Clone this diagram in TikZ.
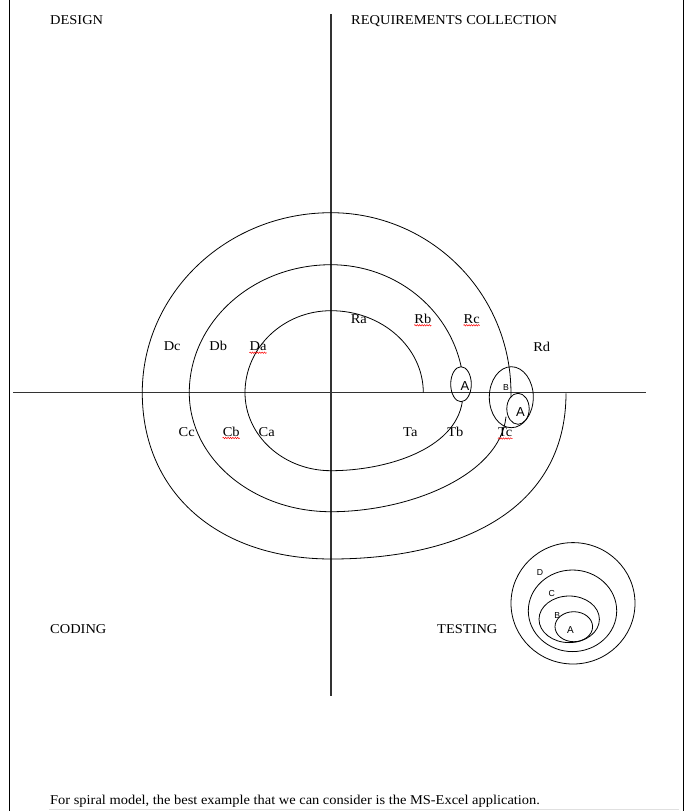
\documentclass[tikz,border=0pt]{standalone}
\usepackage{fontspec}
\setmainfont{Liberation Serif}[FakeStretch=1.07]
\newfontfamily\sansf{Liberation Sans}
\usetikzlibrary{decorations.pathmorphing}
\begin{document}
\begin{tikzpicture}[x=1pt,y=1pt,
  lbl/.style={font=\fontsize{13.5}{16}\selectfont, inner sep=0pt, anchor=base},
  head/.style={font=\fontsize{13.5}{16}\selectfont, inner sep=0pt, anchor=base west},
  slbl/.style={font=\sansf\fontsize{13}{15}\selectfont, inner sep=0pt, anchor=base},
  tlbl/.style={font=\sansf\fontsize{8.7}{10}\selectfont, inner sep=0pt, anchor=base},
  curve/.style={line width=0.8pt, black},
  axisline/.style={line width=1.2pt, black!80},
  squig/.style={red, line width=0.5pt, decorate, decoration={snake, amplitude=0.7pt, segment length=2.4pt}}
]
\useasboundingbox (0,0) rectangle (696,-811);
\fill[white] (0,0) rectangle (696,-811);

% frame
\draw[line width=1pt] (9,0) -- (9,-811);
\draw[line width=1pt] (683,0) -- (683,-811);
\draw[black!12, line width=1pt] (49,-809) -- (679,-809);

% axes
\draw[axisline] (331,-14) -- (331,-696);
\draw[axisline] (13,-392.7) -- (646,-392.7);

% spiral a
\draw[curve] (423.3,-392.7) arc[start angle=0,end angle=90,x radius=92.3,y radius=82]
  arc[start angle=90,end angle=180,x radius=86,y radius=82]
  arc[start angle=180,end angle=270,x radius=86,y radius=78]
  .. controls (385,-470.7) and (455,-450) .. (462.3,-401.7);

% spiral b
\draw[curve] (461.3,-367.2) arc[start angle=11.5,end angle=90,x radius=133,y radius=128]
  arc[start angle=90,end angle=180,x radius=141.7,y radius=128]
  arc[start angle=180,end angle=270,x radius=141.7,y radius=119]
  .. controls (410,-511.7) and (500,-475) .. (506,-416.7);

% spiral c
\draw[curve] (510.9,-397.1) arc[start angle=-1.4,end angle=90,x radius=180,y radius=180]
  arc[start angle=90,end angle=180,x radius=188.7,y radius=180]
  .. controls (142.3,-492.5) and (217.9,-559) .. (331.3,-559)
  .. controls (460,-559) and (566,-510) .. (566,-393.3);

% ellipses on spiral
\draw[curve] (461,-384.2) ellipse[x radius=10.3,y radius=17.5];
\draw[curve] (511.3,-397.2) ellipse[x radius=22,y radius=30.5];
\draw[curve] (518,-408.8) ellipse[x radius=11.2,y radius=15.5];

% nested set
\draw[curve] (573,-603.3) ellipse[x radius=62,y radius=60.7];
\draw[curve] (572.5,-610.8) ellipse[x radius=44.2,y radius=40.8];
\draw[curve] (569.2,-619.3) ellipse[x radius=30.2,y radius=23.3];
\draw[curve] (573.8,-626.7) ellipse[x radius=18.8,y radius=15];

% headings
\node[head] (design) at (50,-24) {DESIGN};
\node[head] (req) at (351,-24) {REQUIREMENTS COLLECTION};
\node[head] (coding) at (50,-633) {CODING};
\node[head] (testing) at (437,-633) {TESTING};
\node[head] (foot) at (50,-804) {For spiral model, the best example that we can consider is the MS-Excel application.};

% spiral labels
\node[lbl] (ra) at (358.8,-323.3) {Ra};
\node[lbl] (rb) at (422.8,-323.3) {Rb};
\node[lbl] (rc) at (471.7,-323.3) {Rc};
\node[lbl] (rd) at (541.7,-351.7) {Rd};
\node[lbl] (dc) at (172.2,-350.7) {Dc};
\node[lbl] (db) at (218.3,-350.7) {Db};
\node[lbl] (da) at (258,-350.7) {Da};
\node[lbl] (cc) at (186.7,-436) {Cc};
\node[lbl] (cb) at (231.2,-436) {Cb};
\node[lbl] (ca) at (266.7,-436) {Ca};
\node[lbl] (ta) at (410.3,-436.5) {Ta};
\node[lbl] (tb) at (455.3,-436.5) {Tb};
\node[lbl] (tc) at (505.2,-436.5) {Tc};

% spelling marks
\foreach \n in {da,cb,rb,rc,tc}
  \draw[squig] ([yshift=-2pt]\n.base west) -- ([yshift=-2pt]\n.base east);

% ellipse labels
\node[slbl] (a1) at (465,-390) {A};
\node[tlbl] (b1) at (506,-390.6) {B};
\node[slbl] (a2) at (520.5,-416) {A};

% nested labels
\node[tlbl] (nd) at (540,-575.3) {D};
\node[tlbl] (nc) at (551.7,-596.3) {C};
\node[tlbl] (nb) at (557.3,-618) {B};
\node[tlbl, font=\sansf\fontsize{10}{12}\selectfont] (na) at (570.5,-633) {A};
\end{tikzpicture}
\end{document}
